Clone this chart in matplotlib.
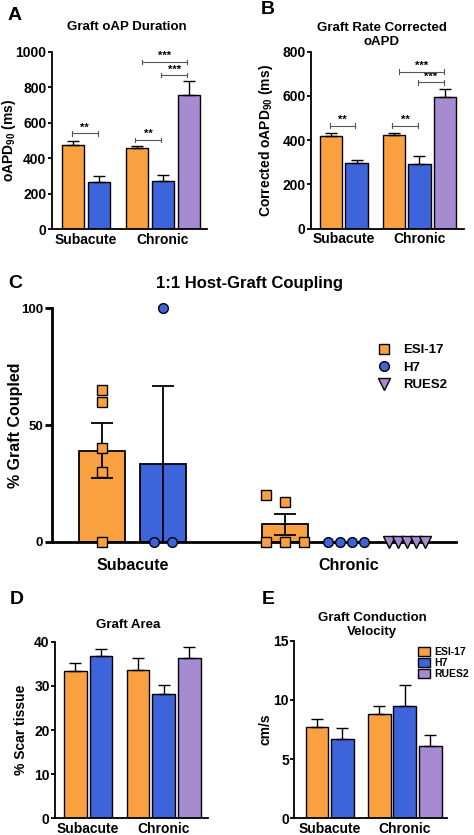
import matplotlib
matplotlib.use("Agg")
import matplotlib.pyplot as plt
from matplotlib.patches import Patch
from matplotlib.lines import Line2D

plt.rcParams['font.family'] = ['Liberation Sans', 'DejaVu Sans']
plt.rcParams['font.weight'] = 'bold'
plt.rcParams['axes.labelweight'] = 'bold'
plt.rcParams['mathtext.fontset'] = 'custom'
plt.rcParams['mathtext.rm'] = 'Liberation Sans:bold'
plt.rcParams['mathtext.bf'] = 'Liberation Sans:bold'

# ---------------- data ----------------
groups = ["Subacute", "Chronic"]
lines = ["ESI-17", "H7", "RUES2"]
colors = ["#F9A040", "#3E64DC", "#A68AD2"]
bar_line = [0, 1, 0, 1, 2]          # cell line of each bar

A_means = [474, 268, 457, 272, 756]
A_err = [21, 32, 10, 36, 81]
A_sig = [(0, 1, 540, "**"), (2, 3, 503, "**"), (2, 4, 942, "***"), (3, 4, 867, "***")]

B_means = [419, 298, 425, 294, 594]
B_err = [15, 11, 9, 33, 36]
B_sig = [(0, 1, 466, "**"), (2, 3, 466, "**"), (2, 4, 710, "***"), (3, 4, 661, "***")]

C_means = [39, 33.3, 7.4]
C_sem = [11.7, 33.3, 4.6]
C_sub_esi = [65, 60, 40, 30, 0]
C_sub_h7 = [100, 0, 0]
C_chr_esi = [20, 17, 0, 0, 0]
C_chr_h7 = [0, 0, 0, 0]
C_chr_rues = [0, 0, 0, 0, 0]

D_means = [33.4, 36.7, 33.6, 28.2, 36.4]
D_err = [1.8, 1.6, 2.7, 2.1, 2.5]

E_means = [7.7, 6.7, 8.85, 9.5, 6.1]
E_err = [0.65, 0.9, 0.6, 1.8, 0.9]

# ---------------- figure ----------------
W, H = 474, 835
fig = plt.figure(figsize=(W / 100, H / 100), dpi=100)


def axes_px(l, t, r, b):
    ax = fig.add_axes([l / W, 1 - b / H, (r - l) / W, (b - t) / H])
    ax._px = (l, r)
    return ax


def ylabel_at(ax, text, x_right_px, fs):
    ax.set_ylabel(text, fontsize=fs, fontweight="bold")
    l, r = ax._px
    ax.yaxis.set_label_coords((x_right_px - l) / (r - l), 0.5)


def style(ax, lw=1.3, fs=10):
    for s in ["top", "right"]:
        ax.spines[s].set_visible(False)
    for s in ["left", "bottom"]:
        ax.spines[s].set_linewidth(lw)
    ax.tick_params(axis="y", direction="out", length=3, width=lw, labelsize=fs, pad=0.8)
    ax.tick_params(axis="x", length=0, labelsize=fs, pad=2.5)
    for t in ax.get_yticklabels() + ax.get_xticklabels():
        t.set_fontweight("bold")


pos5 = [0, 1, 2.45, 3.45, 4.45]


def barpanel(ax, means, errs, width=0.86):
    cols = [colors[i] for i in bar_line]
    ax.bar(pos5, means, width=width, color=cols, edgecolor="black", linewidth=1.0, zorder=2)
    ax.errorbar(pos5, means, yerr=[[0] * 5, errs], fmt="none", ecolor="black",
                elinewidth=1.0, capsize=4.2, capthick=1.0, zorder=3)
    ax.set_xticks([0.5, 3.45])
    ax.set_xticklabels(groups)


def brackets(ax, sig, ymax):
    for i, j, y, txt in sig:
        x1 = pos5[i] + (0.22 if (j - i) > 1 else -0.05)
        x2 = pos5[j] - 0.05
        ax.plot([x1, x2], [y, y], color="#555555", lw=0.8, zorder=4, clip_on=False)
        dy = ymax * 0.012
        for xx in (x1, x2):
            ax.plot([xx, xx], [y - dy, y + dy], color="#555555", lw=0.8, zorder=4, clip_on=False)
        ax.text((x1 + x2) / 2, y + ymax * 0.004, txt, ha="center", va="bottom",
                fontsize=8, fontweight="bold")


# ---- Panel A ----
axA = axes_px(51.7, 51.7, 207, 229.3)
barpanel(axA, A_means, A_err)
axA.set_xlim(-0.82, 5.15)
axA.set_ylim(0, 1000)
axA.set_yticks(range(0, 1001, 200))
brackets(axA, A_sig, 1000)
ylabel_at(axA, r"oAPD$_{90}$ (ms)", 18, 10)
style(axA)
fig.text(127 / W, 1 - 26.7 / H, "Graft oAP Duration", ha="center", va="center", fontsize=9.5, fontweight="bold")
fig.text(8 / W, 1 - 16 / H, "A", ha="left", va="center", fontsize=14, fontweight="bold")

# ---- Panel B ----
axB = axes_px(311, 51.7, 463.7, 228.7)
barpanel(axB, B_means, B_err)
axB.set_xlim(-0.77, 5.17)
axB.set_ylim(0, 800)
axB.set_yticks(range(0, 801, 200))
brackets(axB, B_sig, 800)
ylabel_at(axB, r"Corrected oAPD$_{90}$ (ms)", 275, 10)
style(axB)
fig.text(382 / W, 1 - 35 / H, "Graft Rate Corrected\noAPD", ha="center", va="center",
         fontsize=9.5, fontweight="bold", linespacing=1.2)
fig.text(261 / W, 1 - 9 / H, "B", ha="left", va="center", fontsize=14, fontweight="bold")

# ---- Panel C ----
axC = axes_px(51.7, 308.3, 456, 541.7)
posC = [0, 1, 3]
axC.bar(posC, C_means, width=0.75, color=[colors[0], colors[1], colors[0]],
        edgecolor="black", linewidth=1.3, zorder=2)
axC.errorbar(posC, C_means, yerr=C_sem, fmt="none", ecolor="black", elinewidth=1.3,
             capsize=8, capthick=1.3, zorder=3)
mk = dict(markeredgecolor="black", markeredgewidth=1.0, linestyle="none", zorder=5, clip_on=False)
axC.plot([0] * len(C_sub_esi), C_sub_esi, marker="s", markersize=7.5, color=colors[0], **mk)
axC.plot([1, 0.85, 1.15], C_sub_h7, marker="o", markersize=7, color=colors[1], **mk)
axC.plot([2.69, 3.0, 2.69, 3.0, 3.31], C_chr_esi,
         marker="s", markersize=7.5, color=colors[0], **mk)
axC.plot([3.7, 3.9, 4.1, 4.3], C_chr_h7, marker="o", markersize=7, color=colors[1], **mk)
axC.plot([4.7, 4.85, 5.0, 5.15, 5.3], C_chr_rues, marker="v", markersize=8, color=colors[2], **mk)
axC.set_xlim(-0.82, 5.8)
axC.set_ylim(0, 100)
axC.set_yticks([0, 50, 100])
axC.set_xticks([0.5, 4.05])
axC.set_xticklabels(groups)
ylabel_at(axC, "% Graft Coupled", 23, 11.5)
style(axC, lw=2.0, fs=9.5)
axC.tick_params(axis="x", labelsize=11.5, pad=12)
axC.tick_params(axis="y", length=5, pad=1)
for t in axC.get_xticklabels():
    t.set_fontweight("bold")
handles = [Line2D([], [], marker=m, color=c, markeredgecolor="black", markersize=ms, linestyle="none")
           for m, c, ms in zip(["s", "o", "v"], colors, [7.5, 7, 8])]
leg = axC.legend(handles, lines, loc="upper left", bbox_to_anchor=(0.775, 0.87), frameon=False,
                 fontsize=9.5, handletextpad=0.5, labelspacing=0.4, borderaxespad=0)
for t in leg.get_texts():
    t.set_fontweight("bold")
fig.text(249 / W, 1 - 283 / H, "1:1 Host-Graft Coupling", ha="center", va="center",
         fontsize=12, fontweight="bold")
fig.text(8 / W, 1 - 283 / H, "C", ha="left", va="center", fontsize=14, fontweight="bold")

# ---- Panel D ----
axD = axes_px(55, 641.7, 208, 818.3)
barpanel(axD, D_means, D_err, width=0.88)
axD.set_xlim(-0.8, 5.18)
axD.set_ylim(0, 40)
axD.set_yticks(range(0, 41, 10))
ylabel_at(axD, "% Scar tissue", 28, 10)
style(axD)
fig.text(128 / W, 1 - 625 / H, "Graft Area", ha="center", va="center", fontsize=9.5, fontweight="bold")
fig.text(10 / W, 1 - 599 / H, "D", ha="left", va="center", fontsize=14, fontweight="bold")

# ---- Panel E ----
axE = axes_px(294.3, 640.7, 447, 818.3)
barpanel(axE, E_means, E_err, width=0.9)
axE.set_xlim(-0.89, 5.1)
axE.set_ylim(0, 15)
axE.set_yticks([0, 5, 10, 15])
ylabel_at(axE, "cm/s", 273, 10)
style(axE)
patches = [Patch(facecolor=c, edgecolor="black", linewidth=1.0) for c in colors]
legE = fig.legend(patches, lines, loc="upper left", bbox_to_anchor=(414 / W, 1 - 643 / H), frameon=False,
                  fontsize=7.5, handlelength=1.1, handleheight=0.9, handletextpad=0.4,
                  labelspacing=0.1, borderaxespad=0)
for t in legE.get_texts():
    t.set_fontweight("bold")
fig.text(372 / W, 1 - 625 / H, "Graft Conduction\nVelocity", ha="center", va="center",
         fontsize=9.5, fontweight="bold", linespacing=1.2)
fig.text(262 / W, 1 - 599 / H, "E", ha="left", va="center", fontsize=14, fontweight="bold")

fig.savefig("out.png", dpi=100)
